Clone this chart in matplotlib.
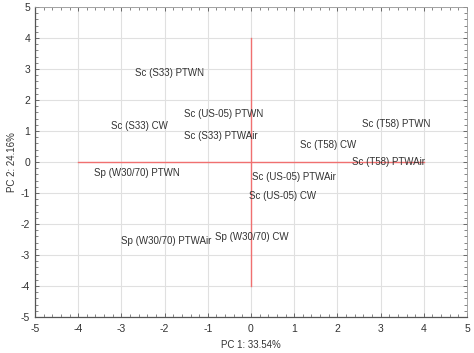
import matplotlib
matplotlib.use("Agg")
import matplotlib.pyplot as plt
from matplotlib.ticker import MultipleLocator

plt.rcParams['font.family'] = ['Liberation Sans', 'DejaVu Sans']
plt.rcParams['axes.unicode_minus'] = False

# etiquetas y coordenadas (PC1, PC2)
labels = ["Sc (S33) PTWN", "Sc (S33) CW", "Sc (US-05) PTWN", "Sc (S33) PTWAir",
          "Sp (W30/70) PTWN", "Sc (T58) PTWN", "Sc (T58) CW", "Sc (T58) PTWAir",
          "Sc (US-05) PTWAir", "Sc (US-05) CW", "Sp (W30/70) PTWAir", "Sp (W30/70) CW"]
pc1 = [-2.69, -3.24, -1.55, -1.55, -3.63, 2.57, 1.13, 2.34, 0.02, -0.05, -3.00, -0.83]
pc2 = [2.87, 1.16, 1.55, 0.84, -0.35, 1.23, 0.55, 0.00, -0.48, -1.10, -2.55, -2.42]

ticks = [-5, -4, -3, -2, -1, 0, 1, 2, 3, 4, 5]

fig = plt.figure(figsize=(4.74, 3.53), dpi=100)
ax = fig.add_axes([35/474, 36/353, 432/474, 310/353])

ax.set_xlim(-5, 5)
ax.set_ylim(-5, 5)
ax.set_xticks(ticks)
ax.set_yticks(ticks)
ax.xaxis.set_minor_locator(MultipleLocator(0.2))
ax.yaxis.set_minor_locator(MultipleLocator(0.2))
ax.grid(True, which='major', color='#e0e0e0', lw=0.8)
ax.set_axisbelow(True)
ax.tick_params(which='both', direction='in', top=True, right=True, labelsize=7.5,
               colors='#555555', labelcolor='#333333')
ax.tick_params(which='major', length=3, width=0.6)
ax.tick_params(which='minor', length=2, width=0.5)
ax.tick_params(axis='x', pad=5)
for side in ['left', 'bottom']:
    ax.spines[side].set_color('#555555')
    ax.spines[side].set_linewidth(0.9)
for side in ['top', 'right']:
    ax.spines[side].set_color('#999999')
    ax.spines[side].set_linewidth(0.6)

# ejes rojos en el origen
ax.plot([-4, 4], [0, 0], color='#f07070', lw=1)
ax.plot([0, 0], [-4, 4], color='#f07070', lw=1)

for lab, x, y in zip(labels, pc1, pc2):
    ax.text(x, y, lab, fontsize=7, color='#333333', ha='left', va='center')

ax.set_xlabel("PC 1: 33.54%", fontsize=7, color='#333333', labelpad=4)
ax.set_ylabel("PC 2: 24.16%", fontsize=7, color='#333333', labelpad=3)

fig.savefig("out.png", dpi=100)
